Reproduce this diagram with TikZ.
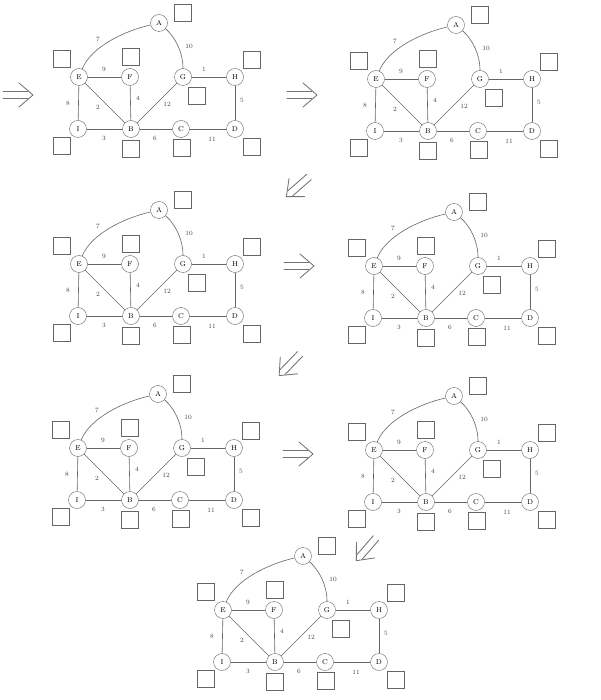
\documentclass[tikz,border=0pt]{standalone}
\tikzset{>=latex}
\tikzset{
  vertex/.style={draw=black!60, circle, minimum size=17pt, inner sep=0pt, fill=white, font=\fontsize{7}{7}\selectfont},
  tag/.style={draw=black!60, minimum size=17pt, inner sep=0pt},
  weight/.style={inner sep=0pt, text=black!75, font=\fontsize{6.5}{7}\selectfont},
  edge/.style={draw=black!60, line width=0.6pt},
  penline/.style={draw=black!55, line width=0.85pt, line cap=round, line join=round},
  handarrow/.pic={
    \draw[penline] (0,-3.5) -- (25,-3.5) (0,3.5) -- (25,3.5);
    \draw[penline] (16,-12) -- (30,0) -- (16,12);
  }
}

\begin{document}
\begin{tikzpicture}[x=1pt, y=-1pt]
  \useasboundingbox (0,0) rectangle (601,700);
  \fill[white] (0,0) rectangle (601,700);
  \foreach \g/\ox/\oy in {g1/79/77, g2/376/79, g3/79/264, g4/374/266, g5/78/448, g6/374/450, g7/223/610} {
    \begin{scope}[shift={(\ox,\oy)}]
      \node[vertex] (\g-A) at (80,-54) {A};
      \node[vertex] (\g-E) at (0,0) {E};
      \node[vertex] (\g-F) at (51,0) {F};
      \node[vertex] (\g-G) at (104,0) {G};
      \node[vertex] (\g-H) at (156,0) {H};
      \node[vertex] (\g-I) at (-1,52) {I};
      \node[vertex] (\g-B) at (52,52) {B};
      \node[vertex] (\g-C) at (102,52) {C};
      \node[vertex] (\g-D) at (156,52) {D};
      % empty boxes beside the vertices
      \node[tag] (\g-Abox) at (104,-64) {};
      \node[tag] (\g-Ebox) at (-17,-18) {};
      \node[tag] (\g-Fbox) at (52,-20) {};
      \node[tag] (\g-Gbox) at (118,19) {};
      \node[tag] (\g-Hbox) at (173,-17) {};
      \node[tag] (\g-Ibox) at (-17,69) {};
      \node[tag] (\g-Bbox) at (52,72) {};
      \node[tag] (\g-Cbox) at (103,71) {};
      \node[tag] (\g-Dbox) at (173,70) {};
      \draw[edge] (\g-E) .. controls +(12,-30) and +(-35,8) .. (\g-A);
      \draw[edge] (\g-A) .. controls +(16,14) and +(0,-25) .. (\g-G);
      \draw[edge] (\g-E) -- (\g-F);
      \draw[edge] (\g-G) -- (\g-H);
      \draw[edge] (\g-E) -- (\g-I);
      \draw[edge] (\g-E) -- (\g-B);
      \draw[edge] (\g-F) -- (\g-B);
      \draw[edge] (\g-G) -- (\g-B);
      \draw[edge] (\g-H) -- (\g-D);
      \draw[edge] (\g-I) -- (\g-B);
      \draw[edge] (\g-B) -- (\g-C);
      \draw[edge] (\g-C) -- (\g-D);
      % weights
      \node[weight] at (19,-38) {7};
      \node[weight] at (110,-31) {10};
      \node[weight] at (25,-8) {9};
      \node[weight] at (125,-8) {1};
      \node[weight] at (-11,26) {8};
      \node[weight] at (19,30) {2};
      \node[weight] at (59,21) {4};
      \node[weight] at (88,27) {12};
      \node[weight] at (163,23) {5};
      \node[weight] at (25,61) {3};
      \node[weight] at (76,61) {6};
      \node[weight] at (133,62) {11};
    \end{scope}
  }
  % arrows between the copies
  \pic at (3,95) {handarrow};
  \pic at (287,95) {handarrow};
  \pic at (284,266) {handarrow};
  \pic at (283,454) {handarrow};
  \pic[rotate=221] at (309,177) {handarrow};
  \pic[rotate=226] at (300,354) {handarrow};
  \pic[rotate=229] at (376,538) {handarrow};
\end{tikzpicture}
\end{document}
